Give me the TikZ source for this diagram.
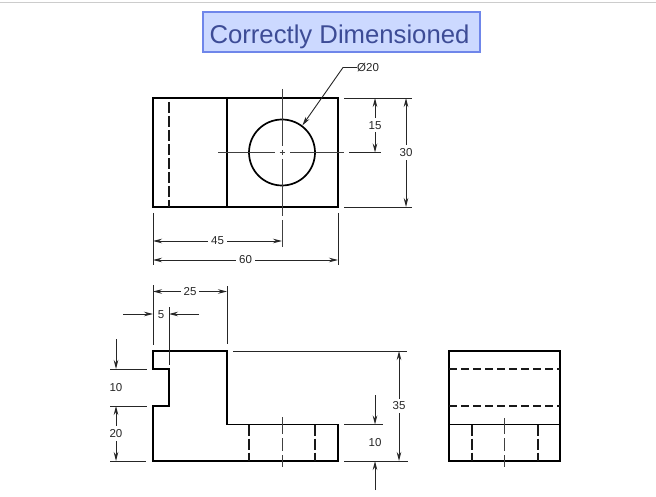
\documentclass[tikz,border=0pt]{standalone}
\usepackage{fontspec}
\setmainfont{Liberation Sans}
\usetikzlibrary{arrows.meta}

\definecolor{titleblue}{HTML}{3D4C96}
\definecolor{titlefill}{HTML}{CCD9FF}
\definecolor{titleedge}{HTML}{6F86EA}

\begin{document}
\begin{tikzpicture}[x=1pt,y=-1pt,
		outline/.style={line width=1.7pt,black,line join=miter},
		hidden/.style={line width=1.3pt,dash pattern=on 8pt off 4pt,black!90},
		hiddenlong/.style={line width=1.3pt,dash pattern=on 11pt off 3pt,black!90},
		centerline/.style={line width=0.9pt,black!75},
		extline/.style={line width=0.9pt,black!85},
		dimline/.style={line width=0.9pt,black!85,{Stealth[length=9pt,width=4.5pt]}-{Stealth[length=9pt,width=4.5pt]}},
		arrowline/.style={line width=0.9pt,black!85,-{Stealth[length=9pt,width=4.5pt]}},
		dimlabel/.style={fill=white,font=\fontsize{11.5}{13}\selectfont,inner sep=3pt,text=black!85},
		plainlabel/.style={font=\fontsize{11.5}{13}\selectfont,inner sep=0pt,text=black!85}
	]
	\useasboundingbox (0,0) rectangle (656,497);
	\draw[black!20,line width=1pt] (0,3) -- (656,3);

	\node [draw=titleedge,fill=titlefill,line width=1.3pt,minimum width=277pt,minimum height=40pt,inner sep=0pt] (title) at (341.5,32) {};
	\node [text=titleblue,inner sep=0pt,font=\fontsize{25.7}{30}\selectfont] (titletext) at (339.5,36.5) {Correctly Dimensioned};

	% top view
	\draw[outline] (153,98) rectangle (338,207);
	\draw[outline] (227,98) -- (227,207);
	\node [draw,outline,circle,minimum size=66pt,inner sep=0pt] (hole) at (282,152.5) {};
	\draw[hiddenlong] (169,102) -- (169,207);
	\draw[centerline]
		(282,89) -- (282,146) (282,150) -- (282,155) (282,159) -- (282,216) (282,220) -- (282,247)
		(218,152.5) -- (275,152.5) (279.5,152.5) -- (284.5,152.5) (290,152.5) -- (344,152.5);

	\draw[extline]
		(344,98) -- (412,98)
		(344,207) -- (412,207)
		(349,152.5) -- (381,152.5)
		(153,213) -- (153,265)
		(338,213) -- (338,265);
	\draw[dimline] (375,98) -- node [dimlabel] (d15) {15} (375,152.5);
	\draw[dimline] (406,98) -- node [dimlabel] (d30) {30} (406,207);
	\draw[dimline] (153,241) -- node [dimlabel] (d45) {45} (282,241);
	\draw[dimline] (153,260) -- node [dimlabel] (d60) {60} (338,260);

	\node [plainlabel,anchor=west] (dia) at (357,67.5) {Ø20};
	\draw[arrowline] (dia.west) -- (343,67.5) -- (hole.53);

	% front view
	\draw[outline] (153,351) -- (227,351) -- (227,424.5) -- (338,424.5) -- (338,461)
		-- (153,461) -- (153,406) -- (169,406) -- (169,369) -- (153,369) -- cycle;
	\foreach \x in {249,315}
		\draw[hiddenlong] (\x,424.5) -- (\x,461);
	\draw[centerline] (282,417) -- (282,434) (282,438) -- (282,451) (282,455) -- (282,467);

	\draw[extline]
		(153,285) -- (153,345)
		(227,286) -- (227,344)
		(169,307) -- (169,365)
		(110,369) -- (147,369)
		(110,406) -- (147,406)
		(110,461) -- (146,461)
		(233,351) -- (407,351)
		(344,424.5) -- (383,424.5)
		(344,461) -- (408,461);
	\draw[dimline] (153,291.5) -- node [dimlabel] (d25) {25} (227,291.5);
	\node [plainlabel] (d5) at (161,314.5) {5};
	\draw[arrowline] (123,314) -- (153,314);
	\draw[arrowline] (199,314) -- (169,314);
	\draw[arrowline] (116,339) -- (116,369);
	\node [plainlabel] (d10a) at (116,388) {10};
	\draw[dimline] (116,406) -- node [dimlabel] (d20) {20} (116,461);
	\draw[dimline] (399,351) -- node [dimlabel] (d35) {35} (399,461);
	\draw[arrowline] (375,395) -- (375,424.5);
	\node [plainlabel] (d10b) at (375,443) {10};
	\draw[arrowline] (375,490) -- (375,461);

	% side view
	\draw[outline] (449,351) rectangle (560,461);
	\draw[outline] (449,424.5) -- (560,424.5);
	\foreach \y in {369,406}
		\draw[hidden] (449,\y) -- (560,\y);
	\foreach \x in {472,538}
		\draw[hiddenlong] (\x,424.5) -- (\x,461);
	\draw[centerline] (504,418) -- (504,434) (504,438) -- (504,451) (504,455) -- (504,467);
\end{tikzpicture}
\end{document}
